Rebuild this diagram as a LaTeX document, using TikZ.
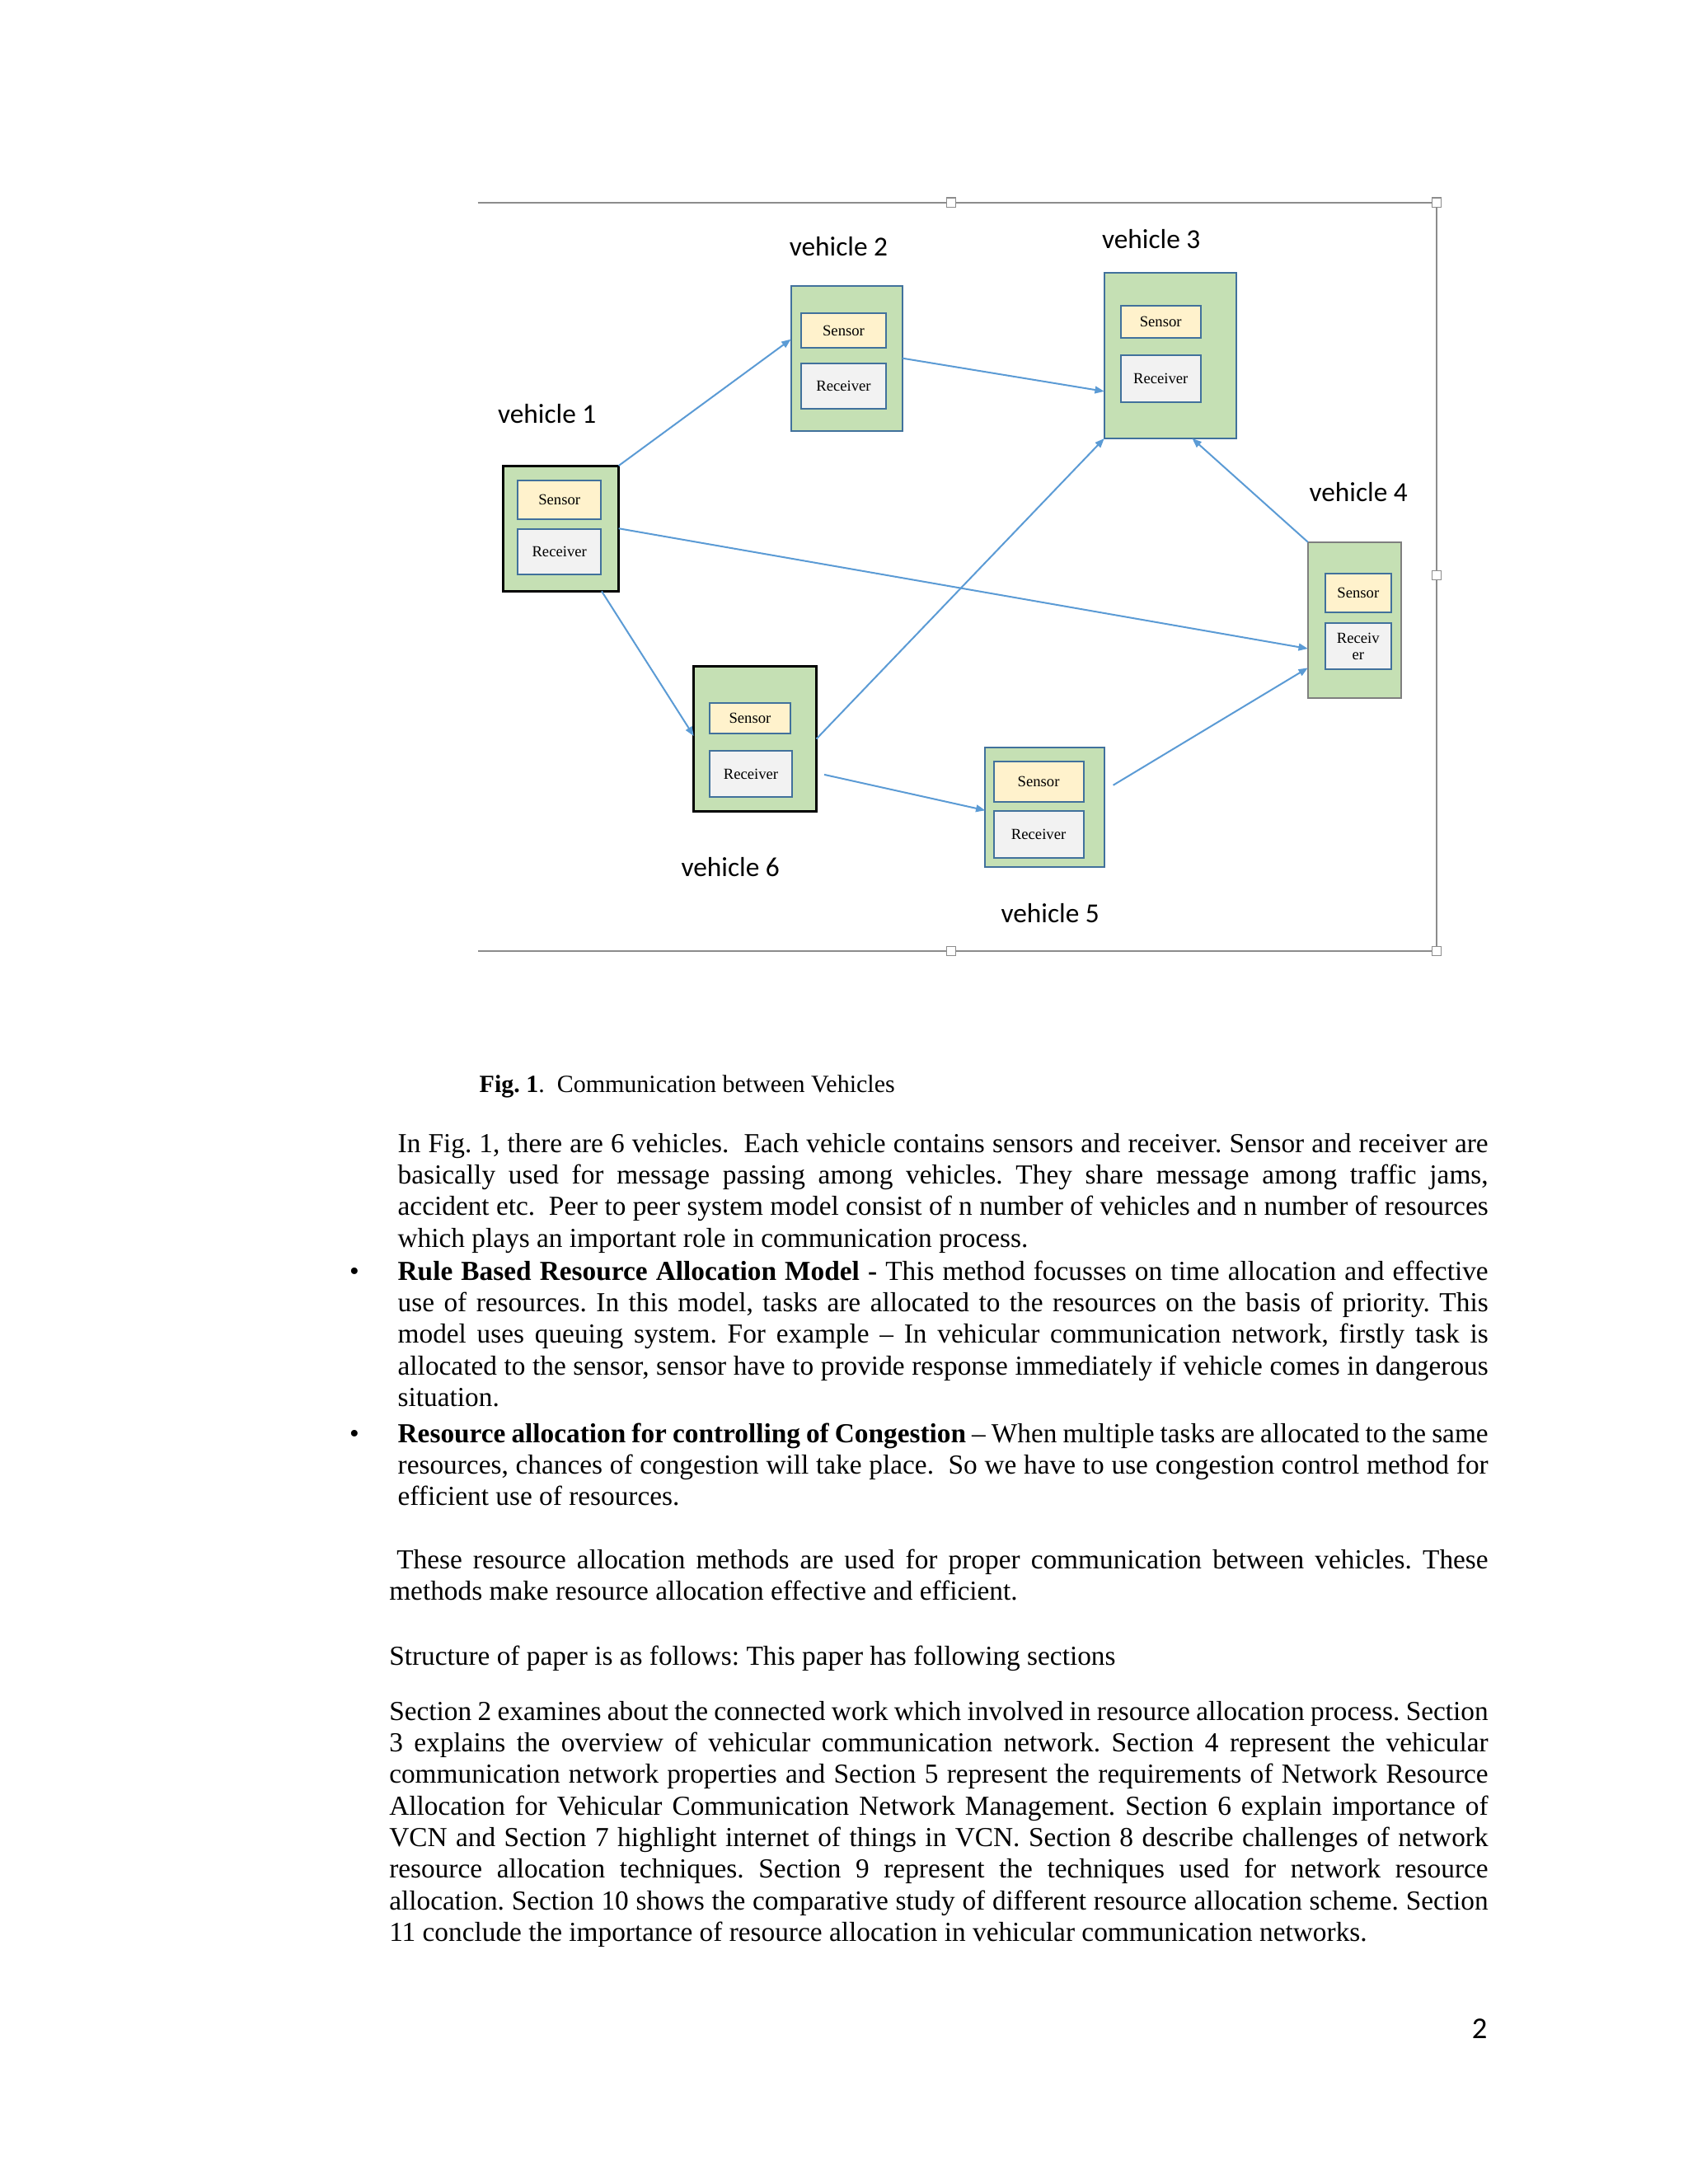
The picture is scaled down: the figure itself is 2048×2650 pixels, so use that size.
\documentclass[tikz,border=0pt]{standalone}
\usepackage{fontspec}
\setmainfont{Liberation Serif}
\newfontfamily\calib{Carlito}
\usetikzlibrary{arrows.meta,calc}
\definecolor{vgreen}{HTML}{C5E0B4}
\definecolor{sensfill}{HTML}{FFF2CC}
\definecolor{recfill}{HTML}{F2F2F2}
\definecolor{bdblue}{HTML}{41719C}
\definecolor{arrblue}{HTML}{5B9BD5}
\definecolor{framegray}{HTML}{8C8C8C}
\definecolor{vgray}{HTML}{7F7F7F}
\frenchspacing
\tolerance=10000
\begin{document}
\begin{tikzpicture}[x=0.3pt,y=-0.3pt,
  outer/.style={draw=bdblue, fill=vgreen, line width=0.6pt, inner sep=0pt, outer sep=0pt},
  sens/.style={draw=bdblue, fill=sensfill, line width=0.6pt, inner sep=0pt, outer sep=0pt, font=\fontsize{5.6}{6.1}\selectfont, align=center},
  recv/.style={sens, fill=recfill},
  vlabel/.style={font=\calib\fontsize{10}{12}\selectfont, anchor=base, inner sep=0pt},
  link/.style={draw=arrblue, line width=0.6pt, -{Triangle[length=3.4pt,width=2.6pt]}},
  body/.style={anchor=base west, inner sep=0pt, align=justify, font=\fontsize{10}{11.5}\selectfont},
  handle/.style={draw=framegray, fill=white, line width=0.4pt, minimum size=3.4pt, inner sep=0pt}
]
\fill[white] (0,0) rectangle (2048,2650);
\useasboundingbox (0,0) rectangle (2048,2650);

% frame
\draw[framegray, line width=0.7pt] (579.6,245.7) -- (1743.1,245.7) -- (1743.1,1154) -- (579.6,1154);
\node[handle] (h1) at (1154,245.7) {};
\node[handle] (h2) at (1743.1,245.7) {};
\node[handle] (h3) at (1743.1,698) {};
\node[handle] (h4) at (1154,1154) {};
\node[handle] (h5) at (1743.1,1154) {};

% vehicle 1
\node[outer, draw=black, line width=0.9pt, minimum width=42.12pt, minimum height=45.66pt] (v1) at (680.4,641.2) {};
\node[sens, minimum width=30.3pt, minimum height=14.19pt] (v1s) at (678.7,606.4) {Sensor};
\node[recv, minimum width=30.3pt, minimum height=16.32pt] (v1r) at (678.7,669.5) {Receiver};
\node[vlabel] (v1l) at (663.7,513.3) {vehicle 1};

% vehicle 2
\node[outer, minimum width=40.62pt, minimum height=52.8pt] (v2) at (1027.3,434.7) {};
\node[sens, minimum width=31.02pt, minimum height=12.6pt] (v2s) at (1023.5,401) {Sensor};
\node[recv, minimum width=31.02pt, minimum height=16.41pt] (v2r) at (1023.5,468.4) {Receiver};
\node[vlabel] (v2l) at (1017.4,310) {vehicle 2};

% vehicle 3
\node[outer, minimum width=48.15pt, minimum height=60.36pt] (v3) at (1420,431.4) {};
\node[sens, minimum width=29.16pt, minimum height=11.64pt] (v3s) at (1408.2,390.6) {Sensor};
\node[recv, minimum width=29.16pt, minimum height=17.04pt] (v3r) at (1408.2,459.6) {Receiver};
\node[vlabel] (v3l) at (1396.7,301.4) {vehicle 3};

% vehicle 4
\node[outer, draw=vgray, minimum width=33.81pt, minimum height=56.79pt] (v4) at (1643.2,752.4) {};
\node[sens, minimum width=23.97pt, minimum height=13.95pt] (v4s) at (1647.8,719.7) {Sensor};
\node[recv, minimum width=23.97pt, minimum height=16.77pt] (v4r) at (1647.8,784.4) {Receiv\\er};
\node[vlabel] (v4l) at (1648.2,608.8) {vehicle 4};

% vehicle 6
\node[outer, draw=black, line width=0.9pt, minimum width=44.61pt, minimum height=53.01pt] (v6) at (916.1,896.6) {};
\node[sens, minimum width=29.28pt, minimum height=11.19pt] (v6s) at (909.9,871.3) {Sensor};
\node[recv, minimum width=29.97pt, minimum height=16.98pt] (v6r) at (911,939) {Receiver};
\node[vlabel] (v6l) at (886.2,1063.3) {vehicle 6};

% vehicle 5
\node[outer, minimum width=43.26pt, minimum height=43.68pt] (v5) at (1267.5,979.5) {};
\node[sens, minimum width=32.64pt, minimum height=14.52pt] (v5s) at (1260.1,948.5) {Sensor};
\node[recv, minimum width=32.64pt, minimum height=16.92pt] (v5r) at (1260.1,1012.5) {Receiver};
\node[vlabel] (v5l) at (1274.2,1119.3) {vehicle 5};

% connectors
\draw[link] (v1.north east) -- ($(v2.north west)!0.369!(v2.south west)$);
\draw[link] (v2.east) -- ($(v3.north west)!0.716!(v3.south west)$);
\draw[link] (v4.north west) -- ($(v3.south west)!0.665!(v3.south east)$);
\draw[link] (v6.east) -- (v3.south west);
\draw[link] (v1.east) -- ($(v4.north west)!0.683!(v4.south west)$);
\draw[link] ($(v5.north east)!0.316!(v5.south east)+(11,0)$) -- ($(v4.north west)!0.806!(v4.south west)$);
\draw[link] ($(v1.south west)!0.853!(v1.south east)$) -- ($(v6.north west)!0.48!(v6.south west)$);
\draw[link] ($(v6.north east)!0.745!(v6.south east)+(9.6,0)$) -- ($(v5.north west)!0.526!(v5.south west)$);

% caption
\node[anchor=base west, inner sep=0pt, font=\fontsize{9}{11}\selectfont] (cap) at (581,1325) {\textbf{Fig. 1}.\ \ Communication between Vehicles};

% paragraph 1
\node[body, text width=396.9pt] (p1) at (482,1398.3) {In Fig. 1, there are 6 vehicles.\ \ Each vehicle contains sensors and receiver. Sensor and receiver are\linebreak
basically used for message passing among vehicles. They share message among traffic jams,\linebreak
accident etc.\ \ Peer to peer system model consist of n number of vehicles and n number of resources\linebreak
which plays an important role in communication process.};

% bullet 1
\node[anchor=base, inner sep=0pt, font=\fontsize{10}{11.5}\selectfont] (d1) at (430,1553.3) {•};
\node[body, text width=396.9pt] (b1) at (482,1553.3) {\textbf{Rule Based Resource Allocation Model -} This method focusses on time allocation and effective\linebreak
use of resources. In this model, tasks are allocated to the resources on the basis of priority. This\linebreak
model uses queuing system. For example – In vehicular communication network, firstly task is\linebreak
allocated to the sensor, sensor have to provide response immediately if vehicle comes in dangerous\linebreak
situation.};

% bullet 2
\node[anchor=base, inner sep=0pt, font=\fontsize{10}{11.5}\selectfont] (d2) at (430,1750) {•};
\node[body, text width=396.9pt] (b2) at (482,1750) {\textbf{Resource allocation for controlling of Congestion} – When multiple tasks are allocated to the same\linebreak
resources, chances of congestion will take place.\ \ So we have to use congestion control method for\linebreak
efficient use of resources.};

% paragraph These
\node[body, text width=400pt] (p2) at (471.6,1903.3) {\hspace*{2.7pt}These resource allocation methods are used for proper communication between vehicles. These\linebreak
methods make resource allocation effective and efficient.};

% structure
\node[anchor=base west, inner sep=0pt, font=\fontsize{10}{11.5}\selectfont] (p3) at (471.6,2020) {Structure of paper is as follows: This paper has following sections};

% sections paragraph
\node[body, text width=400pt] (p4) at (471.6,2087.3) {Section 2 examines about the connected work which involved in resource allocation process. Section\linebreak
3 explains the overview of vehicular communication network. Section 4 represent the vehicular\linebreak
communication network properties and Section 5 represent the requirements of Network Resource\linebreak
Allocation for Vehicular Communication Network Management. Section 6 explain importance of\linebreak
VCN and Section 7 highlight internet of things in VCN. Section 8 describe challenges of network\linebreak
resource allocation techniques. Section 9 represent the techniques used for network resource\linebreak
allocation. Section 10 shows the comparative study of different resource allocation scheme. Section\linebreak
11 conclude the importance of resource allocation in vehicular communication networks.};

% page number
\node[anchor=base east, inner sep=0pt, font=\calib\fontsize{11}{13}\selectfont] (pg) at (1805,2473.3) {2};
\end{tikzpicture}
\end{document}
